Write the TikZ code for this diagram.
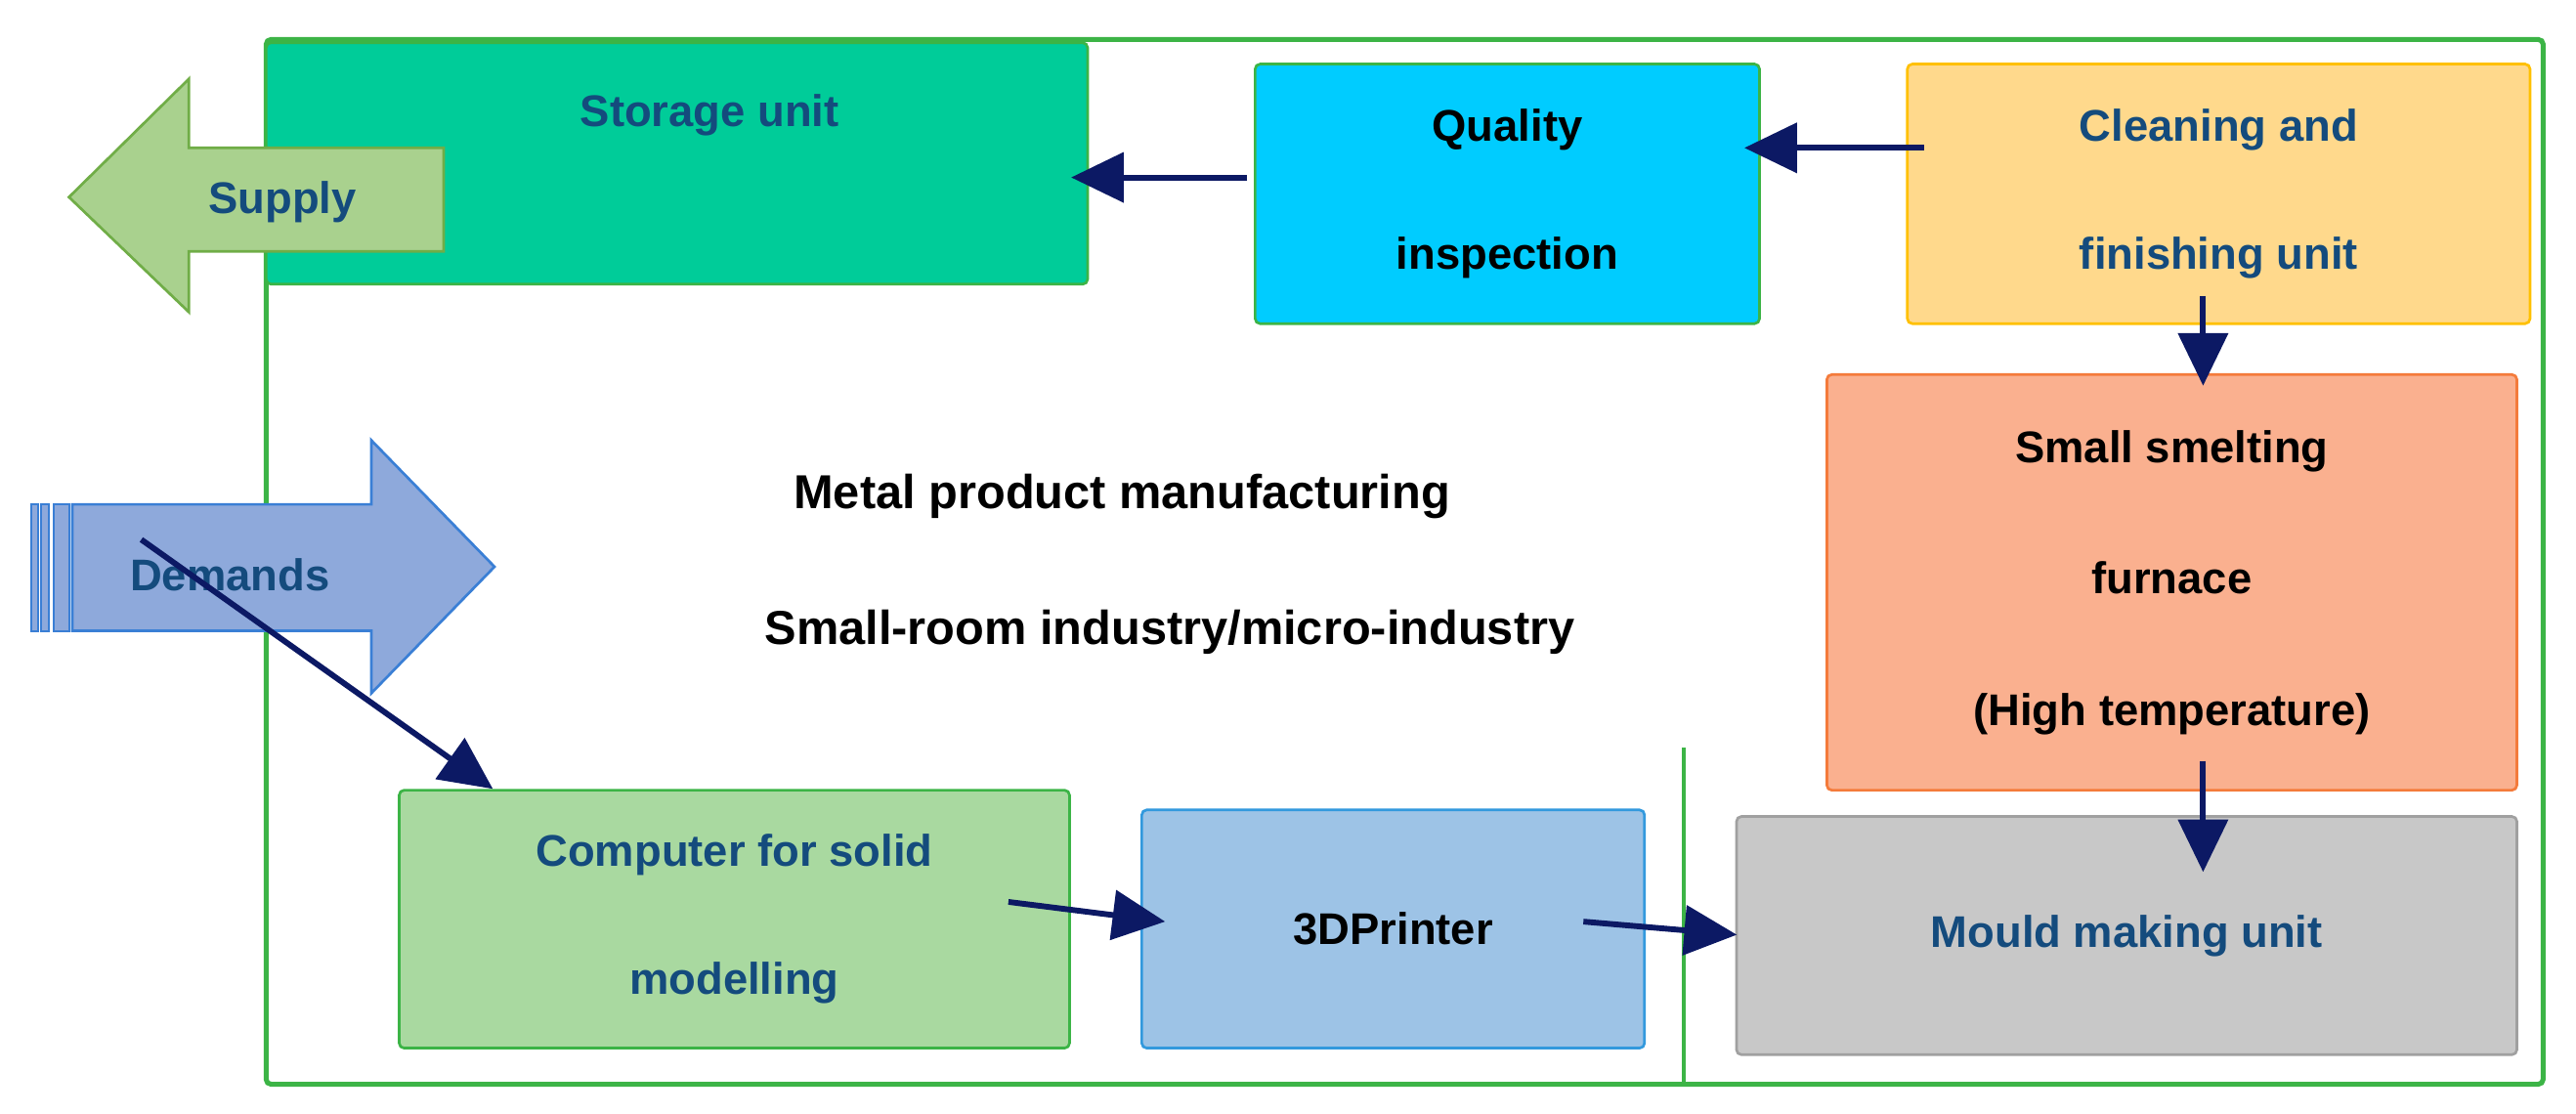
\documentclass[tikz,border=0pt]{standalone}
\usepackage{fontspec}
\setmainfont{Liberation Sans}
\usetikzlibrary{arrows.meta,calc}
\definecolor{gfr}{RGB}{60,180,70}
\definecolor{tblue}{RGB}{20,75,125}
\definecolor{navy}{RGB}{12,25,100}
\begin{document}
\begin{tikzpicture}[x=1pt,y=-1pt,
  box/.style={draw,line width=1.6pt,rounded corners=3pt,align=center,font=\fontsize{27}{78}\selectfont\bfseries},
  con/.style={navy,line width=3.5pt,-{Triangle[length=32pt,width=30pt]}},
  big/.style={font=\fontsize{29}{34}\selectfont\bfseries}]
\useasboundingbox (0,0) rectangle (1568,677.6);
\draw[gfr,line width=3pt,rounded corners=3pt] (162,24) rectangle (1548,660);
\draw[gfr,line width=2.5pt] (1025,455) -- (1025,660);
% storage
\filldraw[draw=gfr,fill={rgb,255:red,0;green,204;blue,153},line width=1.6pt,rounded corners=3pt] (162,26) rectangle (662,173);
\node[text=tblue,big,font=\fontsize{27}{32}\selectfont\bfseries] (st) at (432,70) {Storage unit};
\coordinate (ste) at (662,108);
% supply arrow
\filldraw[draw={rgb,255:red,112;green,173;blue,71},fill={rgb,255:red,169;green,209;blue,142},line width=1.6pt]
 (42,120) -- (115,48) -- (115,90) -- (270,90) -- (270,153) -- (115,153) -- (115,190) -- cycle;
\node[text=tblue,font=\fontsize{27}{32}\selectfont\bfseries] (sup) at (172,123) {Supply};
% quality
\node[box,draw=gfr,fill={rgb,255:red,0;green,204;blue,255},minimum width=307pt,minimum height=158pt] (q) at (917.5,118) {Quality\\inspection};
% cleaning
\node[box,draw={rgb,255:red,255;green,192;blue,0},fill={rgb,255:red,255;green,217;blue,140},text=tblue,minimum width=379pt,minimum height=158pt] (c) at (1350.5,118) {Cleaning and\\finishing unit};
% smelting
\node[box,draw={rgb,255:red,244;green,123;blue,59},fill={rgb,255:red,250;green,176;blue,143},minimum width=420pt,minimum height=253pt,font=\fontsize{27}{80}\selectfont\bfseries] (sm) at (1322,354.5) {Small smelting\\furnace\\(High temperature)};
% mould
\node[box,draw={rgb,255:red,160;green,160;blue,160},fill={rgb,255:red,200;green,200;blue,200},text=tblue,minimum width=475pt,minimum height=145pt] (m) at (1294.5,569.5) {Mould making unit};
% printer
\node[box,draw={rgb,255:red,51;green,153;blue,221},fill={rgb,255:red,157;green,195;blue,230},minimum width=306pt,minimum height=145pt] (p) at (848,565.5) {3DPrinter};
% computer
\node[box,draw=gfr,fill={rgb,255:red,169;green,217;blue,160},text=tblue,minimum width=408pt,minimum height=157pt] (comp) at (447,559.5) {Computer for solid\\modelling};
% demands arrow
\filldraw[draw={rgb,255:red,58;green,127;blue,213},fill={rgb,255:red,142;green,169;blue,219},line width=1.6pt]
 (44,307) -- (226,307) -- (226,268) -- (301,345) -- (226,422) -- (226,384) -- (44,384) -- cycle;
\foreach \a/\b in {19/23,25/30,33/42}
  \filldraw[draw={rgb,255:red,58;green,127;blue,213},fill={rgb,255:red,142;green,169;blue,219},line width=1.2pt] (\a,307) rectangle (\b,384);
\node[text=tblue,font=\fontsize{27}{32}\selectfont\bfseries] (dem) at (140,350) {Demands};
% center texts
\node[big] (t1) at (683,302) {Metal product manufacturing};
\node[big] (t2) at (712,385) {Small-room industry/micro-industry};
% connectors
\draw[con,shorten >=-10pt,shorten <=4pt] (q.west|-ste) -- (ste);
\draw[con,shorten >=-10pt,shorten <=-11pt] (c.west|-0,90) -- (q.east|-0,90);
\draw[con] ([xshift=19pt,yshift=47pt]sm.north) -- ([xshift=-9.5pt,yshift=-37pt]c.south);
\draw[con] ([xshift=46.5pt,yshift=33pt]m.north) -- ([xshift=19pt,yshift=-49pt]sm.south);
\draw[con] ([xshift=-54pt,yshift=35pt]dem.south) -- ([xshift=-147pt]comp.north);
\draw[con] ([xshift=-38pt,yshift=10.5pt]comp.east) -- ([xshift=15pt,yshift=4.5pt]p.west);
\draw[con] ([xshift=-38pt,yshift=4.5pt]p.east) -- ([xshift=1pt,yshift=0.5pt]m.west);
\end{tikzpicture}
\end{document}
